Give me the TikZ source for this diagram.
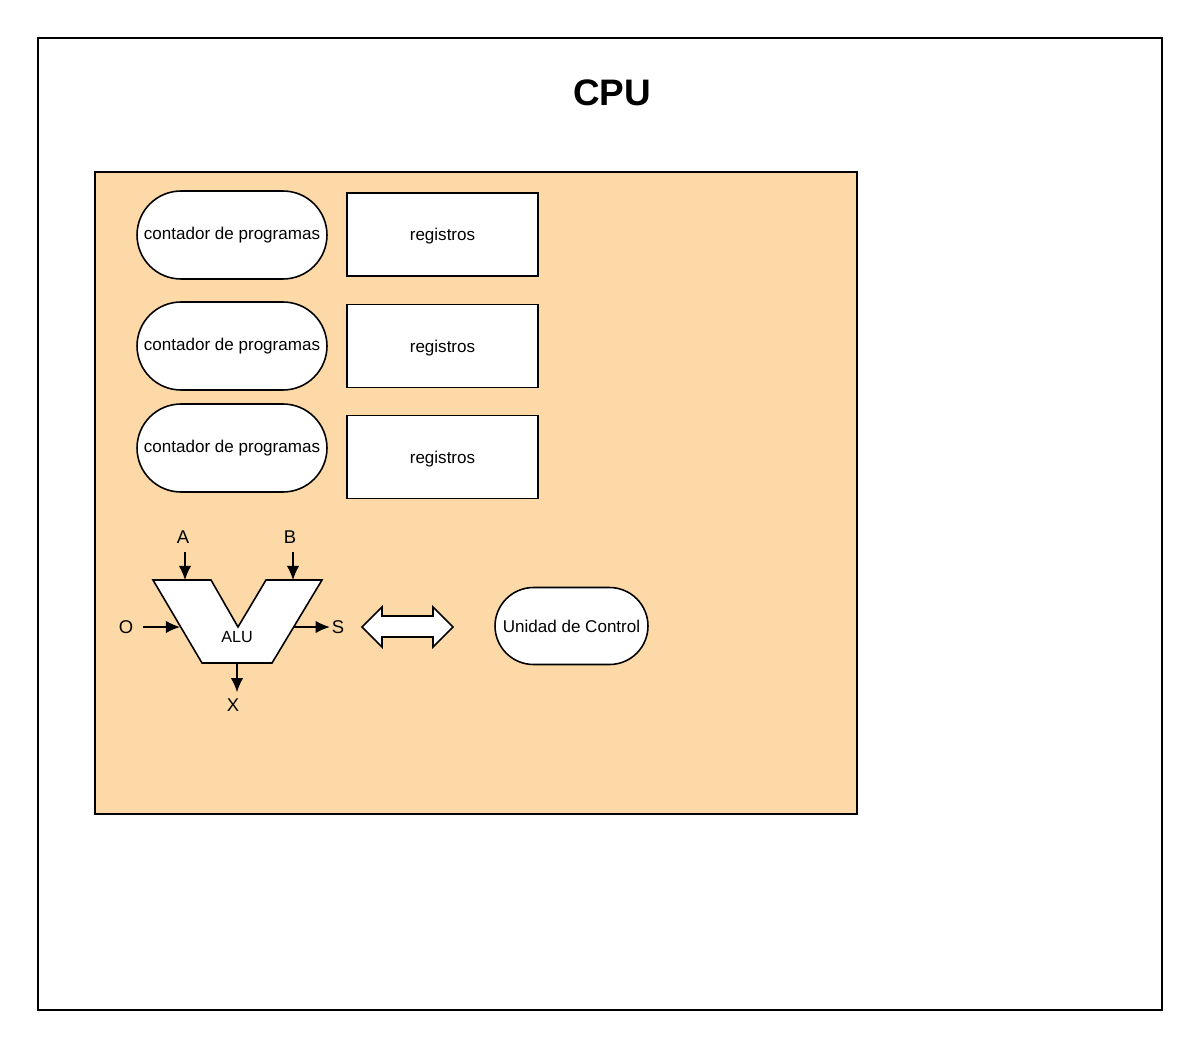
\documentclass[tikz,border=0pt]{standalone}
\usepackage{fontspec}
\setmainfont{Liberation Sans}
\usetikzlibrary{shapes, arrows, arrows.meta, calc, positioning}

\definecolor{cpufill}{RGB}{253,217,167}

\begin{document}
\begin{tikzpicture}[x=0.02cm, y=-0.02cm]
    % Styles
    \tikzstyle{pc} = [rounded rectangle, draw, fill=white, line width=0.9pt, minimum width=3.8cm, minimum height=1.76cm, inner sep=0pt, font=\fontsize{9.7}{11}\selectfont]
    \tikzstyle{reg} = [rectangle, draw, fill=white, line width=0.9pt, minimum width=3.82cm, minimum height=1.66cm, inner sep=0pt, text depth=0pt, font=\fontsize{9.7}{11}\selectfont]
    \tikzstyle{pin} = [inner sep=1pt, font=\fontsize{10.5}{12}\selectfont]
    \tikzstyle{wire} = [draw, -{Latex[length=8pt, width=7pt]}, line width=0.7pt]

    \useasboundingbox (0,0) rectangle (1200,1048);

    % Frames
    \draw [line width=0.9pt] (38,38) rectangle (1162,1010);
    \node [font=\fontsize{21}{24}\selectfont\bfseries] (cpu) at (612,93) {CPU};
    \draw [line width=0.9pt, fill=cpufill] (95,172) rectangle (857,814);

    % Nodes
    \node [pc] (pc1) at (232,235) {contador de programas};
    \node [pc] (pc2) at (232,346) {contador de programas};
    \node [pc] (pc3) at (232,448) {contador de programas};
    \node [reg] (reg1) at (442.5,234.5) {registros};
    \node [reg] (reg2) at (442.5,346) {registros};
    \node [reg] (reg3) at (442.5,457) {registros};
    \node [pc, minimum width=3.06cm, minimum height=1.54cm] (uc) at (571.5,626) {Unidad de Control};

    % ALU
    \draw [line width=0.9pt, fill=white] (153,580) -- (211,580) -- (238,627) -- (266,580) -- (322,580) -- (272,663) -- (202,663) -- cycle;
    \node [font=\fontsize{9.2}{11}\selectfont] (alu) at (237,637) {ALU};
    \coordinate (aluA) at (185,580);
    \coordinate (aluB) at (293,580);
    \coordinate (aluO) at (180,627);
    \coordinate (aluS) at (294,627);
    \coordinate (aluX) at (237,663);

    \node [pin] (inA) at (183,537) {A};
    \node [pin] (inB) at (290,537) {B};
    \node [pin] (inO) at (126,627) {O};
    \node [pin] (outS) at (338,627) {S};
    \node [pin] (outX) at (233,705) {X};

    % Paths
    \draw [wire, shorten <=4pt] (inA.south -| aluA) -- (aluA);
    \draw [wire, shorten <=4pt] (inB.south -| aluB) -- (aluB);
    \draw [wire, shorten <=4.5pt] (inO) -- (aluO);
    \draw [wire] (aluS) -- (outS);
    \draw [wire, shorten >=2.5pt] (aluX) -- (outX.north -| aluX);

    % Bus
    \draw [line width=0.9pt, fill=white] (362,627) -- (382,607) -- (382,616) -- (433,616) -- (433,607) -- (453,627) -- (433,647) -- (433,637) -- (382,637) -- (382,647) -- cycle;

\end{tikzpicture}
\end{document}
